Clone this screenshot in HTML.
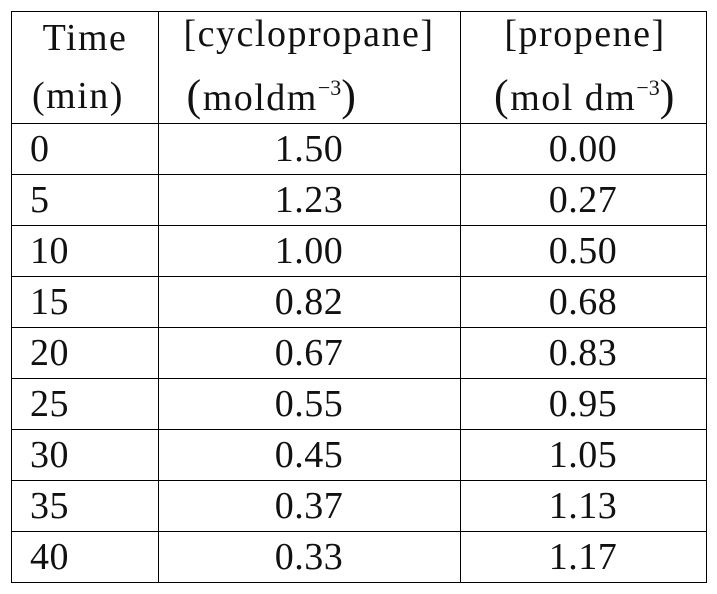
<!DOCTYPE html>
<html><head><style>
body{margin:0;width:717px;height:594px;background:#fff;position:relative;font-family:"Liberation Serif",serif;color:#111;overflow:hidden}
.l{position:absolute;background:#000}
.t{position:absolute;font-size:38px;line-height:40px;white-space:nowrap;letter-spacing:0.5px}
.c{transform:translateX(-50%)}
.hd{letter-spacing:1.5px}
sup{font-size:22px;vertical-align:15px;line-height:0;letter-spacing:0}
.p{font-size:44px}
</style></head><body>
<div class="l" style="left:11px;top:11px;width:696px;height:1px"></div>
<div class="l" style="left:11px;top:123px;width:696px;height:1px"></div>
<div class="l" style="left:11px;top:174px;width:696px;height:1px"></div>
<div class="l" style="left:11px;top:225px;width:696px;height:1px"></div>
<div class="l" style="left:11px;top:276px;width:696px;height:1px"></div>
<div class="l" style="left:11px;top:327px;width:696px;height:1px"></div>
<div class="l" style="left:11px;top:378px;width:696px;height:1px"></div>
<div class="l" style="left:11px;top:429px;width:696px;height:1px"></div>
<div class="l" style="left:11px;top:480px;width:696px;height:1px"></div>
<div class="l" style="left:11px;top:531px;width:696px;height:1px"></div>
<div class="l" style="left:11px;top:582px;width:696px;height:1px"></div>
<div class="l" style="left:11px;top:11px;width:1px;height:572px"></div>
<div class="l" style="left:158px;top:11px;width:1px;height:572px"></div>
<div class="l" style="left:460px;top:11px;width:1px;height:572px"></div>
<div class="l" style="left:706px;top:11px;width:1px;height:572px"></div>

<div class="t c hd" style="left:85px;top:18px">Time</div>
<div class="t c hd" style="left:78px;top:76px">(min)</div>
<div class="t c hd" style="left:309px;top:14px">[cyclopropane]</div>
<div class="t c hd" style="left:272px;top:76px"><span class="p">(</span>moldm<sup>−3</sup><span class="p">)</span></div>
<div class="t c hd" style="left:585px;top:14px">[propene]</div>
<div class="t c hd" style="left:585px;top:76px"><span class="p">(</span>mol dm<sup>−3</sup><span class="p">)</span></div>

<div class="t" style="left:30px;top:129px">0</div><div class="t c" style="left:309px;top:129px">1.50</div><div class="t c" style="left:583px;top:129px">0.00</div>
<div class="t" style="left:30px;top:180px">5</div><div class="t c" style="left:309px;top:180px">1.23</div><div class="t c" style="left:583px;top:180px">0.27</div>
<div class="t" style="left:30px;top:231px">10</div><div class="t c" style="left:309px;top:231px">1.00</div><div class="t c" style="left:583px;top:231px">0.50</div>
<div class="t" style="left:30px;top:282px">15</div><div class="t c" style="left:309px;top:282px">0.82</div><div class="t c" style="left:583px;top:282px">0.68</div>
<div class="t" style="left:30px;top:333px">20</div><div class="t c" style="left:309px;top:333px">0.67</div><div class="t c" style="left:583px;top:333px">0.83</div>
<div class="t" style="left:30px;top:384px">25</div><div class="t c" style="left:309px;top:384px">0.55</div><div class="t c" style="left:583px;top:384px">0.95</div>
<div class="t" style="left:30px;top:435px">30</div><div class="t c" style="left:309px;top:435px">0.45</div><div class="t c" style="left:583px;top:435px">1.05</div>
<div class="t" style="left:30px;top:486px">35</div><div class="t c" style="left:309px;top:486px">0.37</div><div class="t c" style="left:583px;top:486px">1.13</div>
<div class="t" style="left:30px;top:537px">40</div><div class="t c" style="left:309px;top:537px">0.33</div><div class="t c" style="left:583px;top:537px">1.17</div>
</body></html>
